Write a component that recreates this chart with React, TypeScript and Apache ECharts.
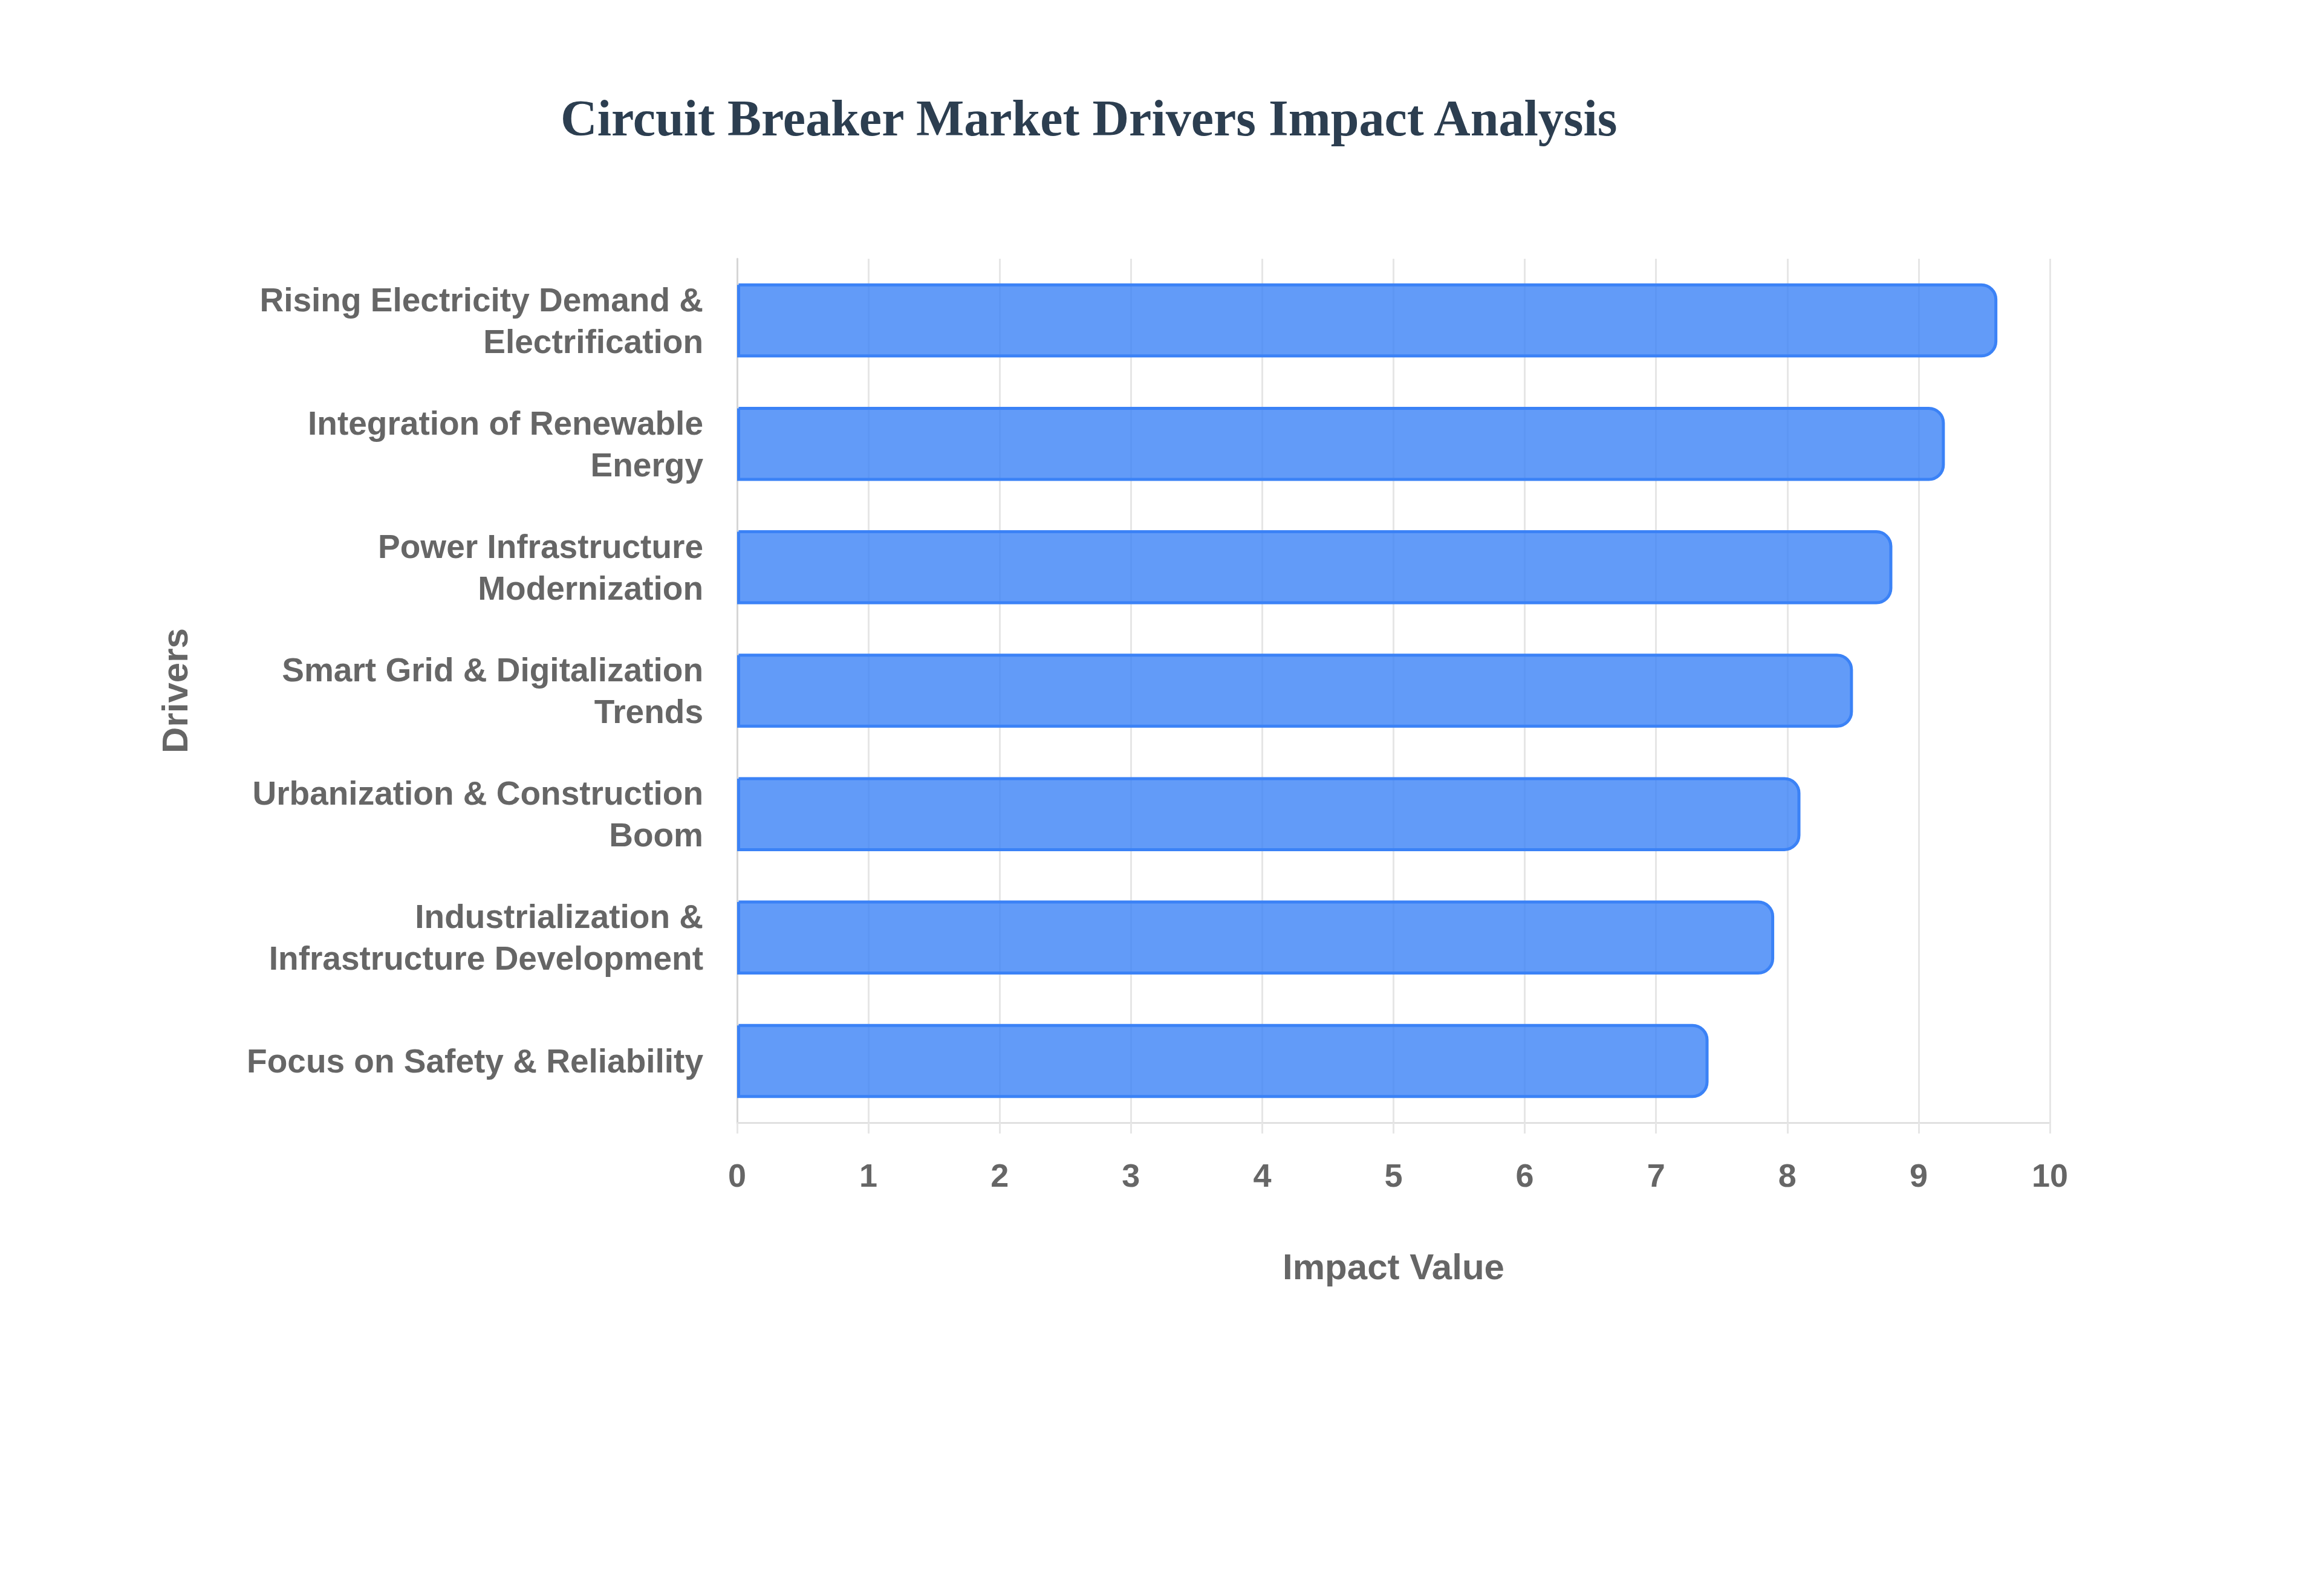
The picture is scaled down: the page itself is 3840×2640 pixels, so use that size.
import React, { useEffect, useRef } from 'react';
import * as echarts from 'echarts';

// drivers, top to bottom
const drivers = [
    'Rising Electricity Demand &\nElectrification',
    'Integration of Renewable\nEnergy',
    'Power Infrastructure\nModernization',
    'Smart Grid & Digitalization\nTrends',
    'Urbanization & Construction\nBoom',
    'Industrialization &\nInfrastructure Development',
    'Focus on Safety & Reliability',
];
const impactValues = [9.6, 9.2, 8.8, 8.5, 8.1, 7.9, 7.4];
const xTicks = { min: 0, max: 10, step: 1 };

const TEXT = '#666666';
const GRID = '#e6e6e6';
const SANS = '"Liberation Sans", Arial, sans-serif';

const App: React.FC = () => {
    const chartRef = useRef<HTMLDivElement>(null);

    useEffect(() => {
        if (!chartRef.current) return;
        const chart = echarts.init(chartRef.current, null, { renderer: 'svg' });
        chart.setOption({
            animation: false,
            backgroundColor: '#ffffff',
            title: {
                text: 'Circuit Breaker Market Drivers Impact Analysis',
                left: 922,
                top: 148,
                textStyle: {
                    fontFamily: '"Liberation Serif", "Times New Roman", serif',
                    fontWeight: 'bold',
                    fontSize: 84,
                    color: '#2c3e50',
                },
            },
            grid: { left: 1219, right: 450, top: 428, bottom: 783, containLabel: false },
            xAxis: {
                type: 'value',
                min: xTicks.min,
                max: xTicks.max,
                interval: xTicks.step,
                name: 'Impact Value',
                nameLocation: 'middle',
                nameGap: 208,
                nameTextStyle: { fontFamily: SANS, fontWeight: 'bold', fontSize: 60, color: TEXT },
                axisLine: { show: true, lineStyle: { color: '#e0e0e0', width: 3 } },
                axisTick: { show: true, length: 18, lineStyle: { color: GRID, width: 3 } },
                axisLabel: { fontFamily: SANS, fontWeight: 'bold', fontSize: 54, color: TEXT, margin: 60 },
                splitLine: { show: true, lineStyle: { color: GRID, width: 3 } },
            },
            yAxis: {
                type: 'category',
                data: drivers,
                inverse: true,
                name: 'Drivers',
                nameLocation: 'middle',
                nameGap: 900,
                nameRotate: 90,
                nameTextStyle: { fontFamily: SANS, fontWeight: 'bold', fontSize: 60, color: TEXT },
                axisLine: { show: true, lineStyle: { color: '#d6d6d6', width: 3 } },
                axisTick: { show: false },
                axisLabel: {
                    fontFamily: SANS,
                    fontWeight: 'bold',
                    fontSize: 55,
                    lineHeight: 69,
                    color: TEXT,
                    margin: 56,
                    align: 'right',
                },
                splitLine: { show: false },
            },
            series: [
                {
                    type: 'bar',
                    data: impactValues,
                    barWidth: '60%',
                    itemStyle: {
                        color: 'rgba(59,130,246,0.8)',
                        borderColor: '#3b82f6',
                        borderWidth: 5,
                        borderRadius: [0, 24, 24, 0],
                    },
                },
            ],
        });
        return () => {
            chart.dispose();
        };
    }, []);

    return (
        <div
            ref={chartRef}
            style={{ position: 'absolute', left: 0, top: 0, width: 3840, height: 2640 }}
        />
    );
};

export default App;
